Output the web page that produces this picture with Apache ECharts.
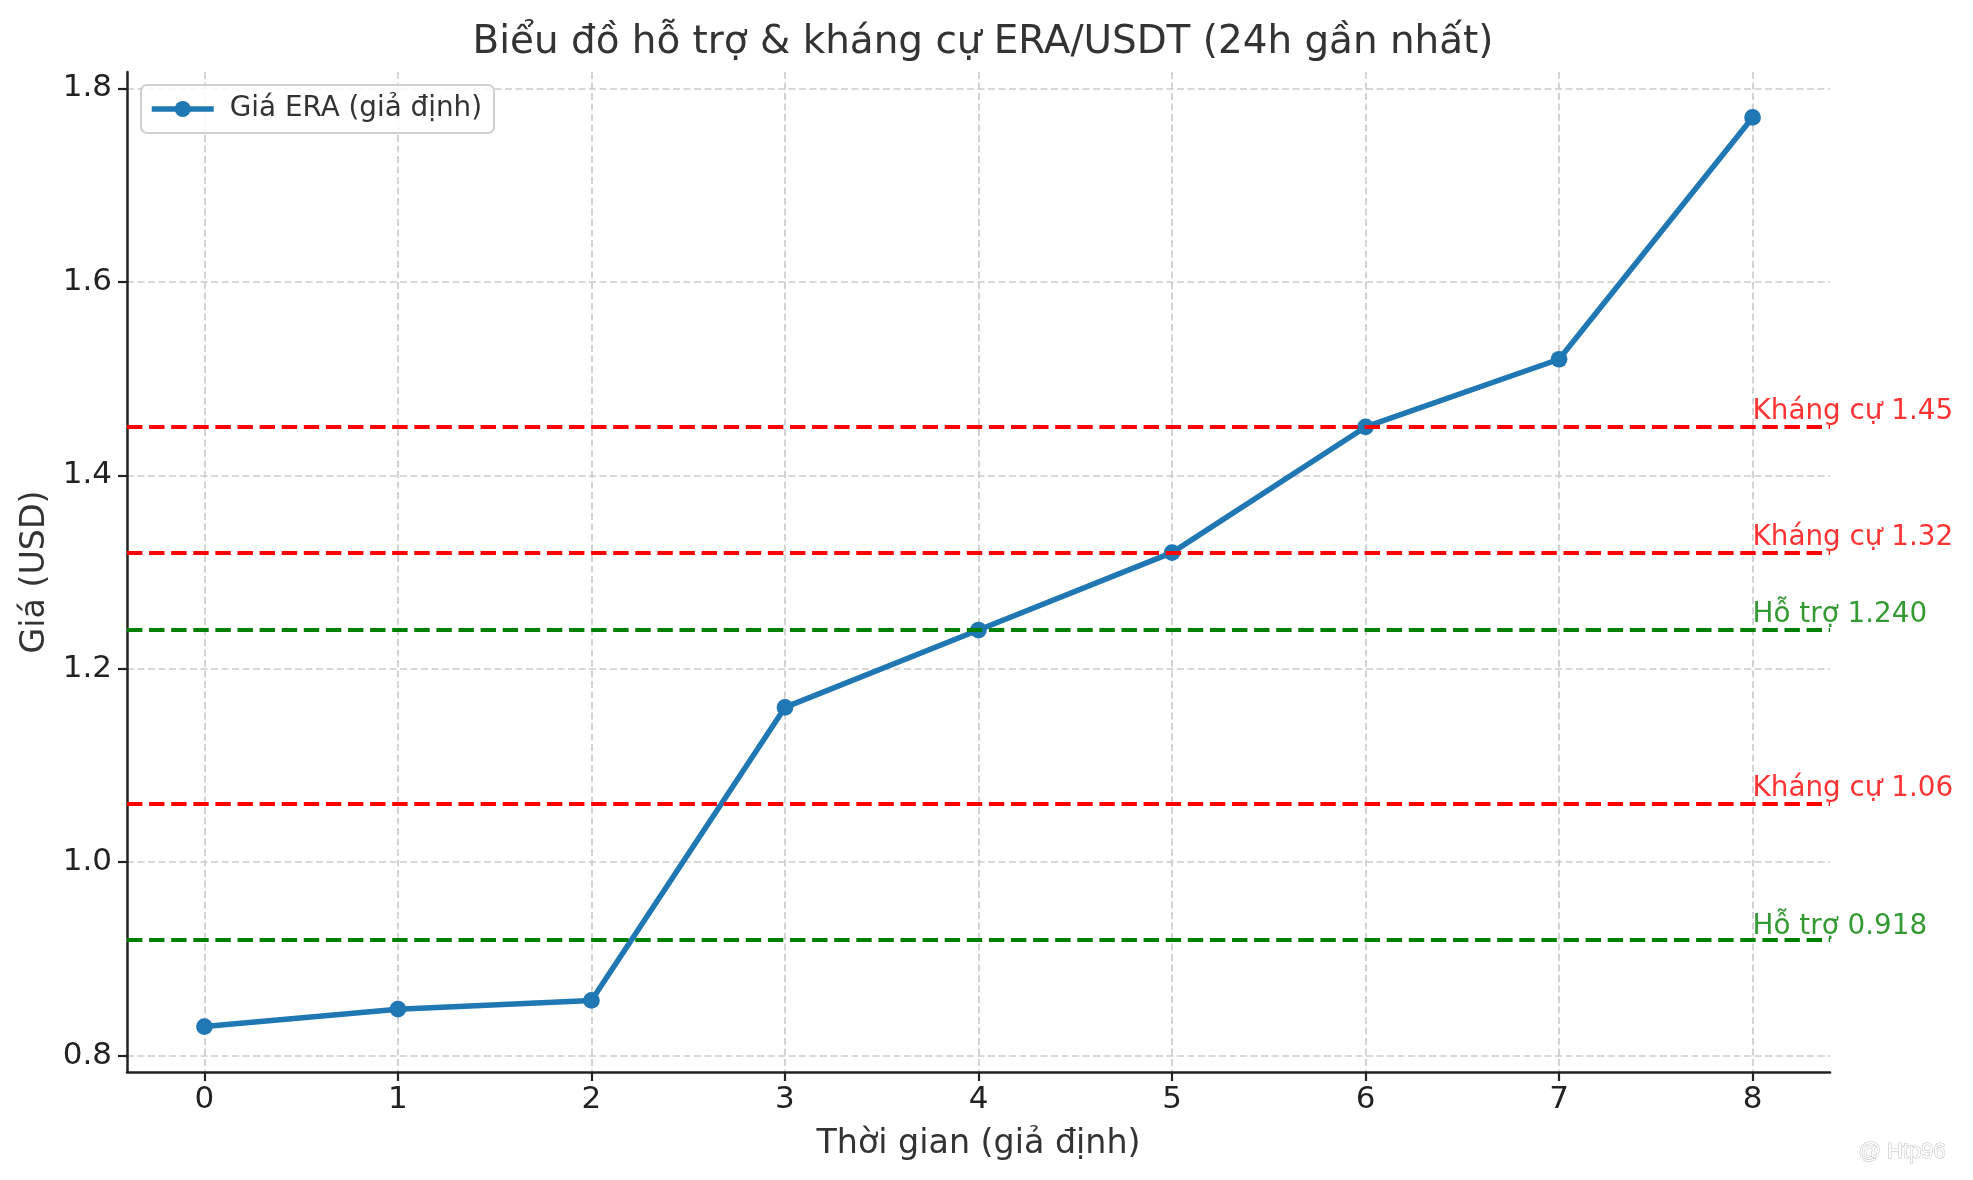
<!DOCTYPE html>
<html><head><meta charset="utf-8">
<script src="https://cdn.jsdelivr.net/npm/echarts@6/dist/echarts.min.js"></script>
<style>html,body{margin:0;padding:0;background:#fff}#c{width:1973px;height:1180px}</style>
</head><body><div id="c"></div>
<script>
const timePoints = [0, 1, 2, 3, 4, 5, 6, 7, 8];
const eraPrice = [0.830, 0.848, 0.857, 1.160, 1.240, 1.320, 1.450, 1.520, 1.770];
const levelValues = [1.45, 1.32, 1.24, 1.06, 0.918];
const levelLabels = ['Kháng cự 1.45', 'Kháng cự 1.32', 'Hỗ trợ 1.240', 'Kháng cự 1.06', 'Hỗ trợ 0.918'];
const levelKinds = ['resistance', 'resistance', 'support', 'resistance', 'support'];
const xTicks = [0, 1, 2, 3, 4, 5, 6, 7, 8];
const yTicks = [0.8, 1.0, 1.2, 1.4, 1.6, 1.8];
const titleText = 'Biểu đồ hỗ trợ & kháng cự ERA/USDT (24h gần nhất)';
const seriesName = 'Giá ERA (giả định)';
const xName = 'Thời gian (giả định)';
const yName = 'Giá (USD)';

const kindColor = { resistance: '#ff0000', support: '#008000' };
const FONT = 'DejaVu Sans';
const dMin = Math.min(...eraPrice), dMax = Math.max(...eraPrice);
const pad = (dMax - dMin) * 0.05;
const xPad = (timePoints[timePoints.length - 1] - timePoints[0]) * 0.05;

const chart = echarts.init(document.getElementById('c'));
chart.setOption({
  animation: false,
  backgroundColor: '#ffffff',
  textStyle: { fontFamily: FONT },
  title: {
    text: titleText, left: 978, top: 18, textAlign: 'center',
    textStyle: { fontFamily: FONT, fontSize: 38.9, fontWeight: 'normal', color: '#333333' }
  },
  legend: {
    data: [seriesName], left: 141, top: 85,
    itemWidth: 62, itemHeight: 20,
    padding: [10, 12, 10, 8],
    backgroundColor: 'rgba(255,255,255,0.85)',
    borderColor: '#d0d0d0', borderWidth: 2, borderRadius: 6,
    lineStyle: { width: 5.5 },
    textStyle: { fontFamily: FONT, fontSize: 27.8, color: '#333333', padding: [0, 0, 0, 11] }
  },
  grid: { left: 127, right: 143, top: 72, bottom: 108, containLabel: false },
  xAxis: {
    type: 'value', min: timePoints[0] - xPad, max: timePoints[timePoints.length - 1] + xPad,
    name: xName, nameLocation: 'middle', nameGap: 56,
    nameTextStyle: { fontFamily: FONT, fontSize: 33.3, color: '#333333' },
    axisLine: { show: true, onZero: false, lineStyle: { color: '#222222', width: 2.5 } },
    axisTick: { show: true, customValues: xTicks, length: 9, lineStyle: { color: '#222222', width: 2.2 } },
    axisLabel: { customValues: xTicks, fontSize: 31, color: '#222222', margin: 12, fontFamily: FONT },
    splitLine: { show: true, lineStyle: { color: '#cccccc', width: 1.7, type: [7, 3.5] } }
  },
  yAxis: {
    type: 'value', min: dMin - pad, max: dMax + pad,
    name: yName, nameLocation: 'middle', nameGap: 74,
    nameTextStyle: { fontFamily: FONT, fontSize: 33.3, color: '#333333' },
    axisLine: { show: true, onZero: false, lineStyle: { color: '#222222', width: 2.5 } },
    axisTick: { show: true, customValues: yTicks, length: 9, lineStyle: { color: '#222222', width: 2.2 } },
    axisLabel: { customValues: yTicks, fontSize: 31, color: '#222222', margin: 15, fontFamily: FONT,
      formatter: v => v.toFixed(1) },
    splitLine: { show: true, lineStyle: { color: '#cccccc', width: 1.7, type: [7, 3.5] } }
  },
  series: [
    {
      name: seriesName, type: 'line', z: 2,
      data: timePoints.map((t, i) => [t, eraPrice[i]]),
      symbol: 'circle', symbolSize: 16.7, showAllSymbol: true,
      lineStyle: { color: '#1f77b4', width: 5.5 },
      itemStyle: { color: '#1f77b4' }
    },
    {
      name: 'levels', type: 'scatter', z: 3, symbolSize: 0, clip: false,
      data: levelValues.map((v, i) => ({
        value: [timePoints[timePoints.length - 1], v],
        label: { formatter: levelLabels[i], color: kindColor[levelKinds[i]] }
      })),
      label: { show: true, position: 'right', distance: 0, offset: [0, -15], fontSize: 27.8, fontFamily: FONT },
      markLine: {
        silent: true, symbol: ['none', 'none'], label: { show: false },
        data: levelValues.map((v, i) => ({
          yAxis: v,
          lineStyle: { color: kindColor[levelKinds[i]], type: [15.4, 6.7], width: 4.2 }
        }))
      }
    }
  ],
  graphic: [{
    type: 'text', left: 1858, top: 1140,
    style: { text: '@ Htp96', fontSize: 22, fontFamily: 'Liberation Sans', fill: '#ffffff', stroke: '#bbbbbb', lineWidth: 1 }
  }]
});
</script>
</body></html>
